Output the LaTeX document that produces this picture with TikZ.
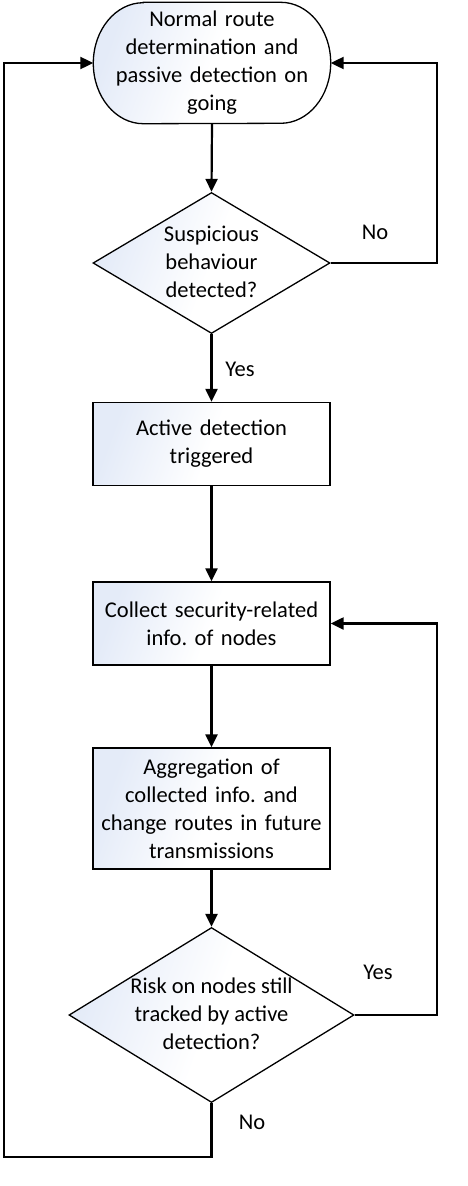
\documentclass[tikz,border=0pt]{standalone}
\usepackage{fontspec}
\setmainfont{Carlito}
\frenchspacing
\usetikzlibrary{arrows.meta,shapes.geometric,calc}
\definecolor{shadeblue}{RGB}{228,235,248}
\tikzset{
  x=1pt,y=-1pt,
  fillgrad/.style={left color=shadeblue,right color=white,middle color=white,shading angle=70},
  boxbase/.style={draw=black,line width=1.3pt,fillgrad,font=\fontsize{22.5}{28}\selectfont,align=center,inner sep=0pt},
  terminal/.style={rectangle,draw=none,font=\fontsize{22.5}{28}\selectfont,align=center,inner sep=0pt,minimum width=237pt,minimum height=121pt,text width=205pt},
  terminaloutline/.style={draw=black,line width=1.3pt,fillgrad},
  process/.style={boxbase,rectangle,minimum width=237pt,text width=228pt},
  decision/.style={boxbase,diamond,aspect=1.6},
  conn/.style={line width=2.2pt,draw=black},
  arr/.style={conn,-{Triangle[length=13pt,width=12pt]}},
  lbl/.style={font=\fontsize{22.5}{28}\selectfont,inner sep=0pt}
}
\newcommand{\dtext}[1]{\smash{\raisebox{-0.25em}{\parbox[c]{10pt}{\centering\makebox[0pt]{\begin{tabular}{@{}c@{}}#1\end{tabular}}}}}}
\begin{document}
\begin{tikzpicture}
\useasboundingbox (0,0) rectangle (468,1186);
\node[terminal] (t) at (212,63) {};
\path[terminaloutline] ($(t.north west)+(50,0)$) -- ($(t.north east)+(-50,0)$)
  arc[start angle=90,end angle=-90,x radius=50pt,y radius=60.5pt]
  -- ($(t.south west)+(50,0)$)
  arc[start angle=270,end angle=90,x radius=50pt,y radius=60.5pt] -- cycle;
\node[terminal] (tt) at (t.center) {Normal route\\determination and\\passive detection on\\going};
\node[decision,minimum width=237pt,minimum height=141pt] (d1) at (211.5,263) {\dtext{\fontsize{22.5}{28}\selectfont Suspicious\\behaviour\\detected?}};
\node[process,minimum height=83pt] (b1) at (211.5,444) {Active detection\\triggered};
\node[process,minimum height=83pt] (b2) at (211.5,623.5) {Collect security-related\\info. of nodes};
\node[process,minimum height=121pt] (b3) at (211.5,808.5) {Aggregation of\\collected info. and\\change routes in future\\transmissions};
\node[decision,minimum width=285pt,minimum height=175pt] (d2) at (211.5,1015) {\dtext{\fontsize{22.5}{28}\selectfont Risk on nodes still\\tracked by active\\detection?}};
\coordinate (rA) at (437,263);
\coordinate (rB) at (437,1015);
\coordinate (lC) at (4,1157);
\draw[arr] (t.south) -- (d1.north);
\draw[arr] (d1.south) -- (b1.north);
\draw[arr] (b1.south) -- (b2.north);
\draw[arr] (b2.south) -- (b3.north);
\draw[arr] (b3.south) -- (d2.north);
\draw[arr] (d1.east) -- (rA) |- (t.east);
\draw[arr] (d2.east) -- (rB) |- (b2.east);
\draw[arr] (d2.south) |- (lC) |- (t.west);
\node[lbl] (no1) at (375,232) {No};
\node[lbl] (yes1) at (240,369) {Yes};
\node[lbl] (yes2) at (378,972) {Yes};
\node[lbl] (no2) at (252,1122) {No};
\end{tikzpicture}
\end{document}
